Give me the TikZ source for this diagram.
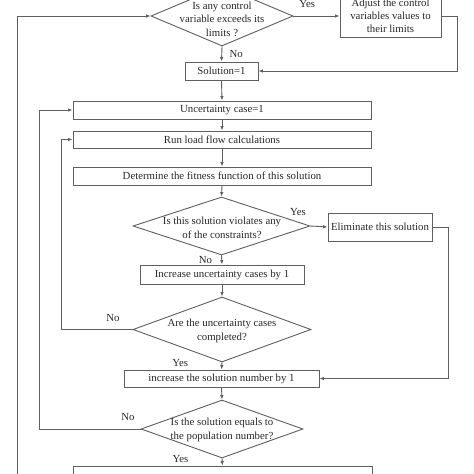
\documentclass[tikz,border=0pt]{standalone}
\usepackage{fontspec}
\setmainfont{Liberation Serif}
\usepackage{tikz}
\usetikzlibrary{arrows.meta,shapes.geometric,positioning,calc}
\definecolor{linegray}{RGB}{95,95,95}
\definecolor{txtgray}{RGB}{40,40,40}

\tikzset{
  proc/.style={draw=linegray, line width=0.9pt, rectangle, inner sep=0pt, align=center, text=txtgray},
  dec/.style={draw=linegray, line width=0.9pt, diamond, inner sep=0pt},
  dtext/.style={align=center, text=txtgray, font=\fontsize{10.8}{13.5}\selectfont},
  lab/.style={text=txtgray, font=\fontsize{10.8}{12}\selectfont},
  flow/.style={draw=linegray, line width=0.9pt, ->}
}

\begin{document}
\begin{tikzpicture}[x=1pt, y=-1pt, >={Latex[length=4.5pt,width=3.5pt]},
  font=\fontsize{10.8}{13}\selectfont]
  \clip (0,0) rectangle (474,474);
  \fill[white] (0,0) rectangle (474,474);

  \node[dec, minimum width=142pt, minimum height=60pt] (chk) at (222,16) {};
  \node[dtext] (chkt) at (222,19) {Is any control\\variable exceeds its\\limits ?};
  \node[proc, minimum width=101pt, minimum height=42pt] (adj) at (390.5,16) {Adjust the control\\variables values to\\their limits};
  \node[proc, minimum width=73pt, minimum height=18pt] (sol) at (221.5,71) {Solution=1};
  \node[proc, minimum width=298pt, minimum height=18pt] (unc) at (222,110) {Uncertainty case=1};
  \node[proc, minimum width=298pt, minimum height=17pt] (run) at (222,139.5) {Run load flow calculations};
  \node[proc, minimum width=298pt, minimum height=18pt] (fit) at (222,176) {Determine the fitness function of this solution};
  \node[dec, minimum width=177pt, minimum height=58pt] (viol) at (221.5,226) {};
  \node[dtext] (violt) at (222,228) {Is this solution violates any\\of the constraints?};
  \node[proc, minimum width=104pt, minimum height=28pt] (elim) at (380,227) {Eliminate this solution};
  \node[proc, minimum width=164pt, minimum height=19pt] (incu) at (222,274.5) {Increase uncertainty cases by 1};
  \node[dec, minimum width=178pt, minimum height=65pt] (done) at (222,329.5) {};
  \node[dtext] (donet) at (222,331) {Are the uncertainty cases\\completed?};
  \node[proc, minimum width=195pt, minimum height=17pt] (incs) at (221.5,378.5) {increase the solution number by 1};
  \node[dec, minimum width=162pt, minimum height=58pt] (pop) at (222,429) {};
  \node[dtext] (popt) at (222,430) {Is the solution equals to\\the population number?};
  \node[proc, minimum width=299pt, minimum height=30pt] (last) at (222.5,481) {};
  \coordinate (back) at (17,480);

  \draw[flow] (chk.east) -- (adj.west) node[lab, pos=0.3, above=5pt] {Yes};
  \draw[flow] (chk.south) -- (sol.north) node[lab, midway, right=4pt] {No};
  \draw[flow] (adj.east) -- ++(16,0) |- (sol.east);
  \draw[flow] (sol.south) -- (unc.north);
  \draw[flow] (unc.south) -- (run.north);
  \draw[flow] (run.south) -- (fit.north);
  \draw[flow] (fit.south) -- (viol.north);
  \draw[flow] (viol.east) -- (elim.west);
  \node[lab] (yesviol) at (298,212) {Yes};
  \draw[flow] (viol.south) -- (incu.north) node[lab, midway, left=6pt] {No};
  \draw[flow] (elim.east) -- ++(16,0) |- (incs.east);
  \draw[flow] (incu.south) -- (done.north);
  \draw[flow] (done.south) -- (incs.north) node[lab, pos=0.1, left=30pt] {Yes};
  \draw[flow] (done.west) -- ++(-71,0) |- (run.west);
  \node[lab] (nodone) at (113,318) {No};
  \draw[flow] (incs.south) -- (pop.north);
  \draw[flow] (pop.west) -- ++(-101,0) |- (unc.west);
  \node[lab] (nopop) at (128,417) {No};
  \draw[flow] (pop.south) -- (last.north) node[lab, pos=0.1, left=30pt] {Yes};
  \draw[flow] (back) |- (chk.west);
\end{tikzpicture}
\end{document}
